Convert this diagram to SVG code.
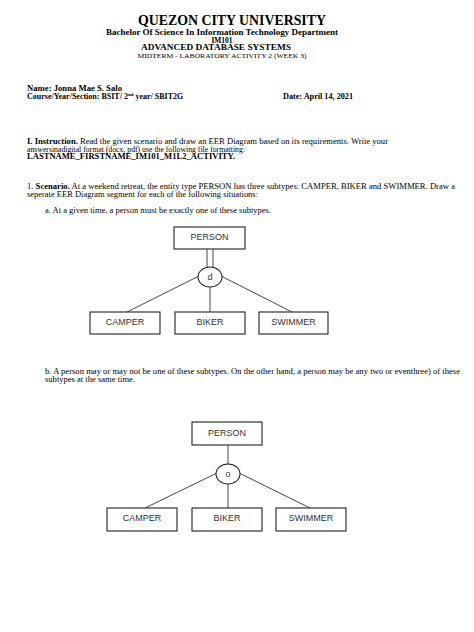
<svg xmlns="http://www.w3.org/2000/svg" width="474" height="632" viewBox="0 0 474 632">
<style>
.t{font-family:"Liberation Serif","Times New Roman",serif;fill:#000}
.b{font-weight:bold}
.s{font-size:8px}
.n rect{fill:#fff;stroke:#222;stroke-width:1.1}
.n text,.c text{font-family:"Liberation Sans",Arial,sans-serif;font-size:9px;fill:#333;text-anchor:middle}
.c line{stroke:#333;stroke-width:0.9}
.c ellipse{fill:#fff;stroke:#222;stroke-width:1.1}
</style>
<rect width="474" height="632" fill="#fff"/>
<g id="header">
<text class="t b" x="232" y="25" font-size="14.5" text-anchor="middle" textLength="188" lengthAdjust="spacingAndGlyphs">QUEZON CITY UNIVERSITY</text>
<text class="t b" x="222" y="35" font-size="7.5" text-anchor="middle" textLength="232" lengthAdjust="spacingAndGlyphs">Bachelor Of Science In Information Technology Department</text>
<text class="t b" x="222" y="42.5" font-size="7.5" text-anchor="middle">IM101</text>
<text class="t b" x="216" y="50" font-size="7.5" text-anchor="middle" textLength="150" lengthAdjust="spacingAndGlyphs">ADVANCED DATABASE SYSTEMS</text>
<text class="t" x="222" y="57.5" font-size="6.5" text-anchor="middle" textLength="169" lengthAdjust="spacingAndGlyphs">MIDTERM - LABORATORY ACTIVITY 2 (WEEK 3)</text>
<text class="t b s" x="27" y="91" textLength="95" lengthAdjust="spacingAndGlyphs">Name: Jonna Mae S. Salo</text>
<text class="t b s" x="27" y="99">Course/Year/Section: BSIT/ 2<tspan font-size="5" dy="-3">nd</tspan><tspan dy="3"> year/ SBIT2G</tspan></text>
<text class="t b s" x="283" y="99" textLength="70" lengthAdjust="spacingAndGlyphs">Date: April 14, 2021</text>
</g>
<g id="instructions">
<text class="t s" x="27" y="144" textLength="361" lengthAdjust="spacingAndGlyphs"><tspan class="b">I. Instruction.</tspan> Read the given scenario and draw an EER Diagram based on its requirements. Write your</text>
<text class="t s" x="27" y="151.5" textLength="218" lengthAdjust="spacingAndGlyphs">answersinadigital format (docx, pdf) use the following file formatting:</text>
<text class="t b s" x="27" y="159" textLength="208" lengthAdjust="spacingAndGlyphs">LASTNAME_FIRSTNAME_IM101_M1L2_ACTIVITY.</text>
<text class="t s" x="27" y="189" textLength="428" lengthAdjust="spacingAndGlyphs">1. <tspan class="b">Scenario.</tspan> At a weekend retreat, the entity type PERSON has three subtypes: CAMPER, BIKER and SWIMMER. Draw a</text>
<text class="t s" x="27" y="197" textLength="231" lengthAdjust="spacingAndGlyphs">seperate EER Diagram segment for each of the following situations:</text>
<text class="t s" x="45" y="213" textLength="226" lengthAdjust="spacingAndGlyphs">a. At a given time, a person must be exactly one of these subtypes.</text>
<text class="t s" x="45" y="374" textLength="415" lengthAdjust="spacingAndGlyphs">b. A person may or may not be one of these subtypes. On the other hand,  a person may be any two or eventhree) of these</text>
<text class="t s" x="45" y="382" textLength="90" lengthAdjust="spacingAndGlyphs">subtypes at the same time.</text>
</g>
<g id="connectors" class="c">
<line x1="207" y1="249" x2="207" y2="268"/>
<line x1="213" y1="249" x2="213" y2="268"/>
<line x1="199" y1="276" x2="127" y2="312"/>
<line x1="210" y1="286" x2="210" y2="312"/>
<line x1="221" y1="276" x2="292" y2="312"/>
<line x1="228" y1="445" x2="228" y2="464"/>
<line x1="217" y1="473" x2="145" y2="508"/>
<line x1="228" y1="484" x2="228" y2="508"/>
<line x1="239" y1="473" x2="310" y2="508"/>
</g>
<g id="d-circle" class="c"><ellipse cx="210" cy="277" rx="12" ry="10"/><text x="210" y="280" font-size="8">d</text></g>
<g id="o-circle" class="c"><ellipse cx="228" cy="474" rx="12" ry="10"/><text x="228" y="477" font-size="8">o</text></g>
<g id="person1" class="n"><rect x="174" y="227" width="71" height="22"/><text x="209.5" y="240">PERSON</text></g>
<g id="camper1" class="n"><rect x="90" y="312" width="70" height="22"/><text x="125" y="325">CAMPER</text></g>
<g id="biker1" class="n"><rect x="175" y="312" width="70" height="22"/><text x="210" y="325">BIKER</text></g>
<g id="swimmer1" class="n"><rect x="259" y="312" width="69" height="22"/><text x="293.5" y="325">SWIMMER</text></g>
<g id="person2" class="n"><rect x="192" y="422" width="70" height="23"/><text x="227" y="436">PERSON</text></g>
<g id="camper2" class="n"><rect x="107" y="508" width="70" height="23"/><text x="142" y="521">CAMPER</text></g>
<g id="biker2" class="n"><rect x="192" y="508" width="70" height="23"/><text x="227" y="521">BIKER</text></g>
<g id="swimmer2" class="n"><rect x="276" y="508" width="70" height="23"/><text x="311" y="521">SWIMMER</text></g>
</svg>
